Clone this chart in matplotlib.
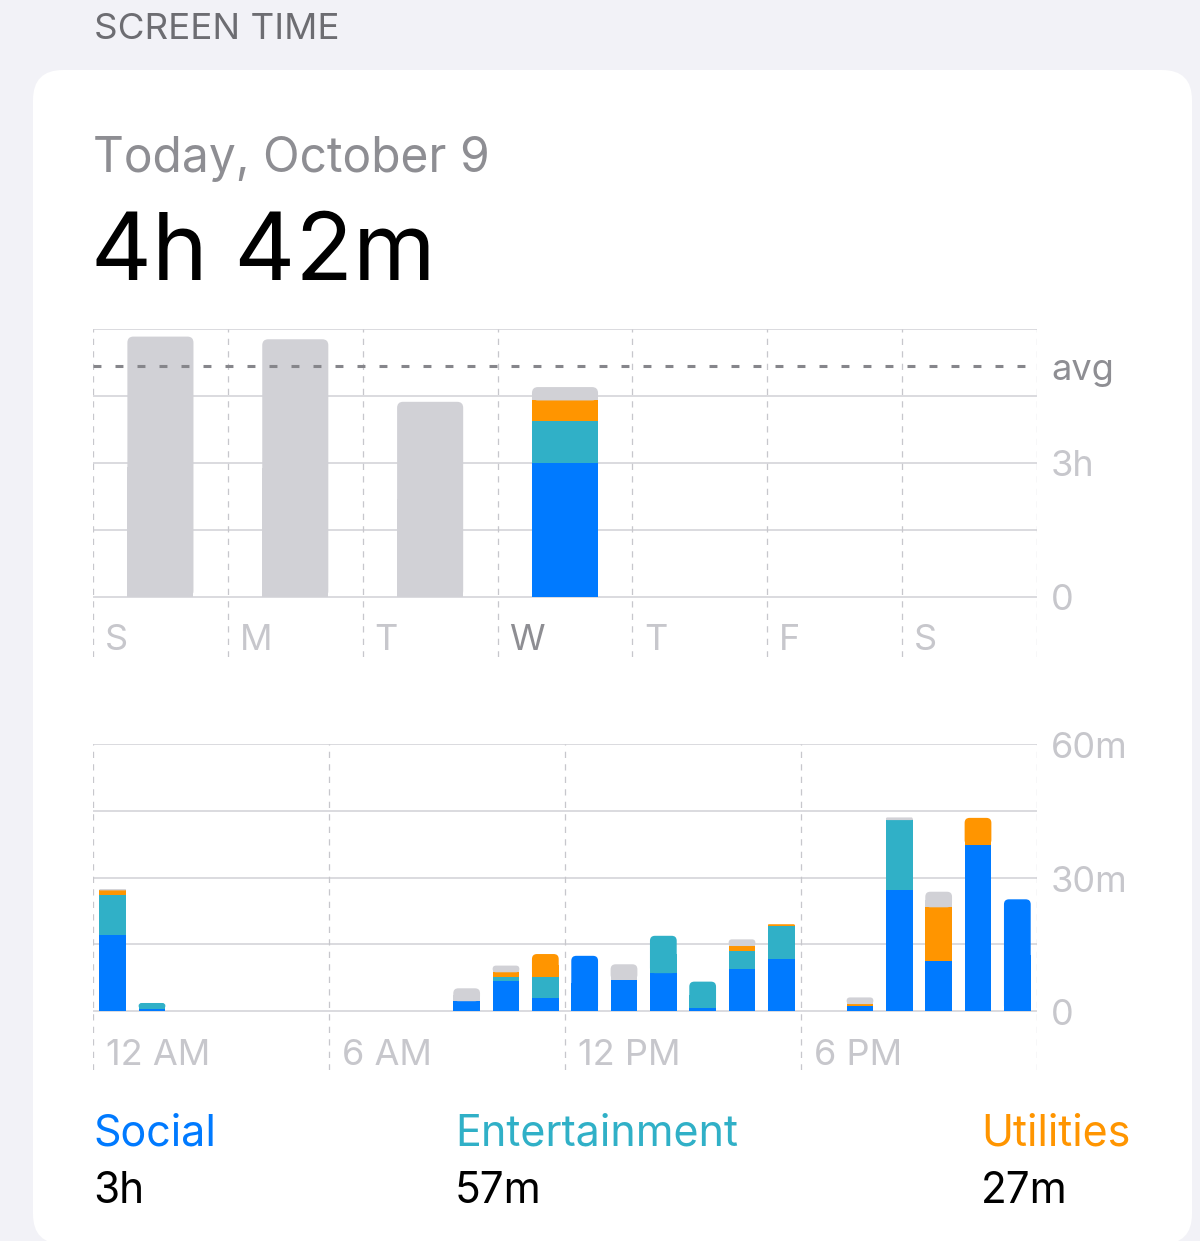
import matplotlib.pyplot as plt
import matplotlib.transforms as mtransforms
from matplotlib.patches import FancyBboxPatch, Rectangle

# weekly data (hours)
days = ['S', 'M', 'T', 'W', 'T', 'F', 'S']
prev_days_h = [5.83, 5.77, 4.37]          # Sun, Mon, Tue totals
today_idx = 3
today_social_h = 3.0
today_ent_h = 0.95
today_util_h = 0.45
today_other_h = 0.3
avg_h = 5.17

# hourly data for today (minutes)
hours = list(range(24))
social_m = [17, 0.5, 0, 0, 0, 0, 0, 0, 0, 2.2, 6.7, 2.9,
            12.4, 7, 8.5, 0.7, 9.5, 11.6, 0, 1.1, 27.3, 11.2, 37.3, 25.1]
ent_m = [9, 1.3, 0, 0, 0, 0, 0, 0, 0, 0, 1, 4.8,
         0, 0, 8.4, 5.9, 4, 7.5, 0, 0, 15.6, 0, 0, 0]
util_m = [1.1, 0, 0, 0, 0, 0, 0, 0, 0, 0, 1, 5.1,
          0, 0, 0, 0, 1.1, 0.4, 0, 0.45, 0, 12.1, 6.1, 0]
other_m = [0.3, 0, 0, 0, 0, 0, 0, 0, 0, 2.9, 1.5, 0,
           0, 3.5, 0, 0, 1.5, 0, 0, 1.5, 0.6, 3.5, 0, 0]
hour_labels = ['12 AM', '6 AM', '12 PM', '6 PM']

categories = ['Social', 'Entertainment', 'Utilities']
totals = ['3h', '57m', '27m']

BLUE = '#007AFF'
TEAL = '#30B0C7'
ORANGE = '#FF9500'
GRAY = '#D1D1D6'
LIGHT = '#C7C7CC'
MID = '#8E8E93'
GRID = '#D8D8DC'

plt.rcParams['font.family'] = ['Inter', 'DejaVu Sans']

W, H = 1200, 1241
fig = plt.figure(figsize=(W / 100, H / 100), dpi=100)
fig.patch.set_facecolor('#F2F2F7')

# white card
card = FancyBboxPatch((0.33, -0.03), 11.59, 11.74,
                      boxstyle='round,pad=0,rounding_size=0.3',
                      transform=fig.dpi_scale_trans, facecolor='white',
                      edgecolor='none', zorder=0)
fig.add_artist(card)


def fx(x):
    return x / W


def fy(y):
    return 1 - y / H


def shift(ax, dx, dy):
    # offset in pixels (dy positive = up)
    return mtransforms.offset_copy(ax.transData, fig=fig, x=dx * 0.72,
                                   y=dy * 0.72, units='points')


def round_tops(ax, containers, r_px):
    # give the top segment of each stacked bar rounded upper corners
    p0 = ax.transData.transform((0, 0))
    p1 = ax.transData.transform((1, 1))
    sx, sy = p1 - p0
    for i in range(len(containers[0])):
        segs = [c[i] for c in containers if c[i].get_height() > 0]
        if not segs:
            continue
        top = segs[-1]
        x, y, w, h = top.get_x(), top.get_y(), top.get_width(), top.get_height()
        r = min(r_px, h * sy / 2, w * sx / 2)
        top.set_visible(False)
        ax.add_patch(FancyBboxPatch((x, y), w, h,
                                    boxstyle=f'round,pad=0,rounding_size={r / sx}',
                                    mutation_aspect=sx / sy, fc=top.get_facecolor(),
                                    ec='none', zorder=top.get_zorder()))
        ax.add_patch(Rectangle((x, y), w, h / 2, fc=top.get_facecolor(),
                               ec='none', zorder=top.get_zorder()))


# header
fig.text(fx(94), fy(39), 'SCREEN TIME', fontsize=26.5, color='#6D6D72', va='baseline')
fig.text(fx(93), fy(172), 'Today, October 9', fontsize=34.5, color=MID, va='baseline')
fig.text(fx(91), fy(280), '4h 42m', fontsize=68, color='black', va='baseline')

# ---- weekly chart ----
ax1 = fig.add_axes([fx(93), fy(657), fx(944), (657 - 329) / H])
ax1.set_xlim(0, 7)
ax1.set_ylim(-60 / (268 / 6), 6)
ax1.axis('off')

for y in [0, 1.5, 3, 4.5, 6]:
    ax1.plot([0, 7], [y, y], color=GRID, lw=1.3, zorder=1)
for x in range(8):
    ax1.plot([x, x], [ax1.get_ylim()[0], 6], color=LIGHT, lw=0.9,
             dashes=(5, 5), zorder=1)

bw = 0.49
prev = ax1.bar([i + 0.5 for i in range(len(prev_days_h))], prev_days_h, width=bw,
               color=GRAY, zorder=2)
round_tops(ax1, [prev], 6)
x_t = today_idx + 0.5
bottom = 0
today_bars = []
for val, col in [(today_social_h, BLUE), (today_ent_h, TEAL),
                 (today_util_h, ORANGE), (today_other_h, GRAY)]:
    today_bars.append(ax1.bar(x_t, val, bottom=bottom, width=bw, color=col, zorder=2))
    bottom += val
round_tops(ax1, today_bars, 6)

ax1.plot([0, 7], [avg_h, avg_h], color='#86868B', lw=2.2, dashes=(2.6, 4.6), zorder=3)

for i, d in enumerate(days):
    ax1.text(i, 0, d, fontsize=26, color=MID if i == today_idx else LIGHT,
             transform=shift(ax1, 12, -53), va='baseline', ha='left')

ax1.text(7, avg_h, 'avg', fontsize=26, color=MID, transform=shift(ax1, 14, -14),
         va='baseline')
for y, lab in [(3, '3h'), (0, '0')]:
    ax1.text(7, y, lab, fontsize=26, color=LIGHT, transform=shift(ax1, 14, -13),
             va='baseline')

# ---- hourly chart ----
ax2 = fig.add_axes([fx(93), fy(1070), fx(944), (1070 - 744) / H])
ax2.set_xlim(0, 24)
ax2.set_ylim(-59 / (267 / 60), 60)
ax2.axis('off')

for y in [0, 15, 30, 45, 60]:
    ax2.plot([0, 24], [y, y], color=GRID, lw=1.3, zorder=1)
for x in range(0, 25, 6):
    ax2.plot([x, x], [ax2.get_ylim()[0], 60], color=LIGHT, lw=0.9,
             dashes=(5, 5), zorder=1)

hx = [h + 0.5 for h in hours]
hb = 0.68
base = [0] * 24
hour_bars = []
for vals, col in [(social_m, BLUE), (ent_m, TEAL), (util_m, ORANGE), (other_m, GRAY)]:
    hour_bars.append(ax2.bar(hx, vals, bottom=base, width=hb, color=col, zorder=2))
    base = [b + v for b, v in zip(base, vals)]
round_tops(ax2, hour_bars, 5)

for i, lab in enumerate(hour_labels):
    ax2.text(i * 6, 0, lab, fontsize=26, color=LIGHT,
             transform=shift(ax2, 13, -54), va='baseline', ha='left')

for y, lab in [(60, '60m'), (30, '30m'), (0, '0')]:
    ax2.text(24, y, lab, fontsize=26, color=LIGHT, transform=shift(ax2, 14, -14),
             va='baseline')

# ---- category totals ----
cat_x = [93, 455, 981]
cat_colors = [BLUE, TEAL, ORANGE]
for x, c, t, col in zip(cat_x, categories, totals, cat_colors):
    fig.text(fx(x), fy(1145), c, fontsize=31, color=col, va='baseline')
    fig.text(fx(x), fy(1203), t, fontsize=30.5, color='black', va='baseline')

fig.savefig('out.png', dpi=100, facecolor=fig.get_facecolor())
